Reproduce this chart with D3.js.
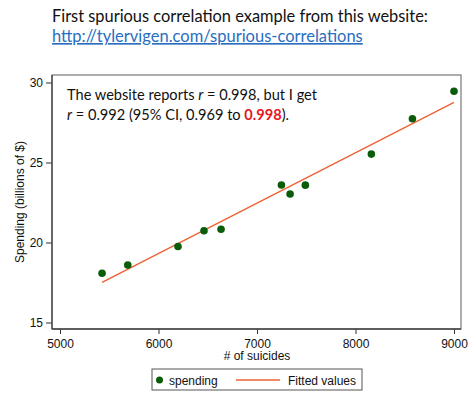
<!DOCTYPE html>
<html>
<head>
<meta charset="utf-8">
<script src="https://cdn.jsdelivr.net/npm/d3@7"></script>
<style>
  body { margin: 0; background: #fff; }
  svg text { font-family: "Liberation Sans", Arial, sans-serif; }
  .note { font-family: Lato, "Open Sans", sans-serif; }
</style>
</head>
<body>
<div id="chart"></div>
<script>
// data: suicides vs US science spending, 1999-2009
const suicides = [5427, 5688, 6198, 6462, 6635, 7336, 7248, 7491, 8161, 8578, 9000]
const spending = [18.079, 18.594, 19.753, 20.734, 20.831, 23.029, 23.597, 23.584, 25.525, 27.731, 29.449]
const xTicks = [5000, 6000, 7000, 8000, 9000]
const yTicks = [15, 20, 25, 30]

const width = 474, height = 408
const frame = { left: 52, right: 461, top: 75, bottom: 329 }

const svg = d3.select("#chart").append("svg")
    .attr("width", width)
    .attr("height", height)

// scales
const xScale = d3.scaleLinear().domain([5000, 9000]).range([60, 454])
const yScale = d3.scaleLinear().domain([15, 30]).range([322.5, 82.5])

// heading
svg.append("text").attr("class", "note")
    .attr("x", 52).attr("y", 22)
    .attr("font-size", 16.4).attr("fill", "#111")
    .text("First spurious correlation example from this website:")
svg.append("text").attr("class", "note")
    .attr("x", 52).attr("y", 42)
    .attr("font-size", 16.5).attr("fill", "#2a6ebf")
    .attr("text-decoration", "underline")
    .text("http://tylervigen.com/spurious-correlations")

// plot frame
svg.append("rect")
    .attr("x", frame.left).attr("y", frame.top)
    .attr("width", frame.right - frame.left).attr("height", frame.bottom - frame.top)
    .attr("fill", "none").attr("stroke", "#777").attr("stroke-width", 1.2)

// axes
const xAxis = svg.append("g")
    .attr("transform", `translate(0,${frame.bottom})`)
    .call(d3.axisBottom(xScale).tickValues(xTicks).tickFormat(d3.format("d")).tickSize(5).tickPadding(5))
const yAxis = svg.append("g")
    .attr("transform", `translate(${frame.left},0)`)
    .call(d3.axisLeft(yScale).tickValues(yTicks).tickSize(6).tickPadding(3))
for (const ax of [xAxis, yAxis]) {
    ax.select(".domain").remove()
    ax.selectAll("line").attr("stroke", "#333")
    ax.selectAll("text").attr("font-size", 12).attr("fill", "#111")
        .style("font-family", "'Liberation Sans', Arial, sans-serif")
}
svg.append("line")
    .attr("x1", frame.left).attr("x2", frame.right)
    .attr("y1", frame.bottom).attr("y2", frame.bottom)
    .attr("stroke", "#444").attr("stroke-width", 1.3)
svg.append("line")
    .attr("x1", frame.left).attr("x2", frame.left)
    .attr("y1", frame.top).attr("y2", frame.bottom)
    .attr("stroke", "#444").attr("stroke-width", 1.3)

// axis titles
svg.append("text")
    .attr("x", xScale(7000)).attr("y", 360)
    .attr("text-anchor", "middle").attr("font-size", 12).attr("fill", "#111")
    .text("# of suicides")
svg.append("text")
    .attr("transform", `translate(23.5,${(frame.top + frame.bottom) / 2}) rotate(-90)`)
    .attr("text-anchor", "middle").attr("font-size", 12).attr("fill", "#111")
    .text("Spending (billions of $)")

// fitted line (OLS)
const mx = d3.mean(suicides), my = d3.mean(spending)
const slope = d3.sum(suicides, (x, i) => (x - mx) * (spending[i] - my)) /
    d3.sum(suicides, x => (x - mx) ** 2)
const intercept = my - slope * mx
const xExt = d3.extent(suicides)
svg.append("path")
    .datum(xExt)
    .attr("d", d3.line().x(d => xScale(d)).y(d => yScale(intercept + slope * d)))
    .attr("stroke", "#ee6030").attr("stroke-width", 1.3).attr("fill", "none")

// points
svg.selectAll("circle.pt")
    .data(suicides)
    .join("circle")
    .attr("class", "pt")
    .attr("cx", d => xScale(d))
    .attr("cy", (d, i) => yScale(spending[i]))
    .attr("r", 3.8)
    .attr("fill", "#0a5c0a")

// annotation
const note1 = svg.append("text").attr("class", "note")
    .attr("x", 67).attr("y", 100).attr("font-size", 14.6).attr("fill", "#111")
note1.append("tspan").text("The website reports ")
note1.append("tspan").attr("font-style", "italic").text("r")
note1.append("tspan").text(" = 0.998, but I get")
const note2 = svg.append("text").attr("class", "note")
    .attr("x", 67).attr("y", 119.5).attr("font-size", 14.6).attr("fill", "#111")
note2.append("tspan").attr("font-style", "italic").text("r")
note2.append("tspan").text(" = 0.992 (95% CI, 0.969 to ")
note2.append("tspan").attr("font-weight", "bold").attr("fill", "#e8141e").text("0.998")
note2.append("tspan").text(").")

// legend
const leg = svg.append("g")
leg.append("rect")
    .attr("x", 152).attr("y", 369).attr("width", 210).attr("height", 21)
    .attr("fill", "#fff").attr("stroke", "#555").attr("stroke-width", 1)
leg.append("circle").attr("cx", 159.5).attr("cy", 380).attr("r", 3.5).attr("fill", "#0a5c0a")
leg.append("text").attr("x", 169).attr("y", 384.5).attr("font-size", 12).attr("fill", "#111").text("spending")
leg.append("line").attr("x1", 236).attr("x2", 280).attr("y1", 380).attr("y2", 380)
    .attr("stroke", "#ee6030").attr("stroke-width", 1.3)
leg.append("text").attr("x", 288).attr("y", 384.5).attr("font-size", 12).attr("fill", "#111").text("Fitted values")
</script>
</body>
</html>
